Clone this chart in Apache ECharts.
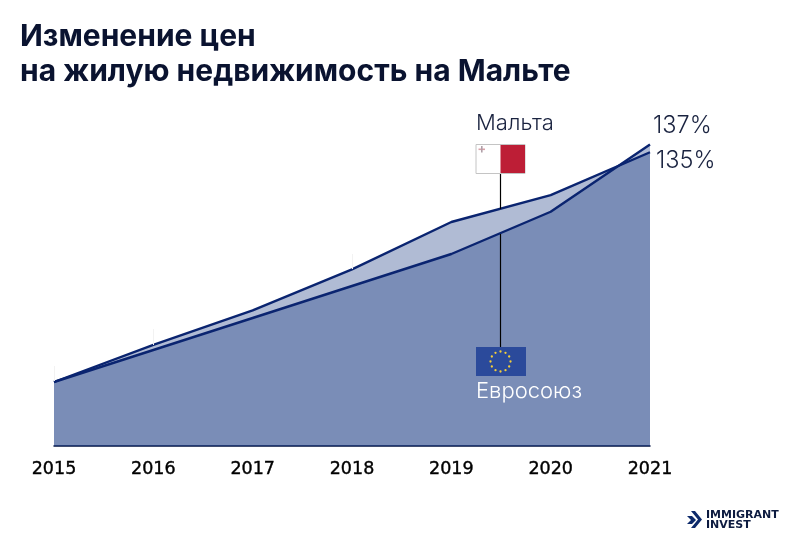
<!DOCTYPE html>
<html><head><meta charset="utf-8">
<style>html,body{margin:0;padding:0;background:#fff}#c{width:801px;height:551px}</style>
<script src="https://cdn.jsdelivr.net/npm/echarts@6/dist/echarts.min.js"></script>
</head><body><div id="c"></div>
<script>
const years = ['2015','2016','2017','2018','2019','2020','2021'];
const malta = [100, 105.8, 111.2, 117.6, 125, 129.2, 135.9];
const eu = [100, 105, 110, 115, 120, 126.6, 137.1];
const titleLines = ['Изменение цен', 'на жилую недвижимость на Мальте'];
const endLabels = ['137%', '135%'];
const names = ['Мальта', 'Евросоюз'];

const chart = echarts.init(document.getElementById('c'), null, {renderer:'canvas'});
const thin = 'Inter';
function txt(x,y,text,font,fill,extra){
  return {type:'text',x,y,style:Object.assign({text,font,fill,textVerticalAlign:'middle'},extra||{}),z:20};
}
function rect(x,y,w,h,fill,extra){return {type:'rect',shape:{x,y,width:w,height:h},style:Object.assign({fill},extra||{}),z:20};}
function vline(x,y1,y2,stroke,w){return {type:'line',shape:{x1:x,y1,x2:x,y2},style:{stroke:stroke||'#000',lineWidth:w||1.2},z:19};}
const stars = [];
for(let i=0;i<12;i++){
  const a=i*Math.PI/6;
  stars.push({type:'circle',shape:{cx:500.5+10*Math.sin(a),cy:361.5-10*Math.cos(a),r:1.15},style:{fill:'#f5cf3a'},z:21});
}
const series = [
  {name:names[0],data:malta},
  {name:names[1],data:eu}
].map(s=>({
  type:'line',name:s.name,data:s.data,smooth:false,showSymbol:false,symbol:'none',
  lineStyle:{color:'#0a2470',width:2.4},
  areaStyle:{color:'#0a2a78',opacity:0.32,origin:'start'},
  emphasis:{disabled:true},silent:true,clip:false,z:5
}));
chart.setOption({
  animation:false,
  backgroundColor:'#fff',
  grid:{left:54,right:151,top:126,bottom:105,containLabel:false},
  xAxis:{type:'category',data:years,boundaryGap:false,
    axisLine:{show:true,lineStyle:{color:'#00103f',width:1.5}},
    axisTick:{show:false},splitLine:{show:false},
    axisLabel:{color:'#000',fontFamily:'DejaVu Sans',fontSize:17.5,margin:14,interval:0,showMinLabel:true,showMaxLabel:true,textBorderColor:'#000',textBorderWidth:0.4}},
  yAxis:{type:'value',min:90,max:140,interval:10,show:false,splitLine:{show:false}},
  series,
  graphic:[
    txt(20,37,titleLines[0],'700 30px Inter','#0a1330'),
    txt(20,72,titleLines[1],'700 30px Inter','#0a1330'),
    txt(476,123,names[0],'300 22px '+thin,'#1a2340'),
    txt(653,126,endLabels[0],'300 23.5px '+thin,'#1a2340'),
    txt(656,161,endLabels[1],'300 23.5px '+thin,'#1a2340'),
    vline(54.5,366,381,'#f2f2f2',1),
    vline(153.5,329,345,'#f2f2f2',1),
    vline(352.5,254,269,'#f2f2f2',1),
    rect(476,144.5,49,29,'#fff',{stroke:'#c4c4c4',lineWidth:1}),
    rect(500.5,145,24.5,28,'#bd1e36'),
    rect(478.5,148.5,6.5,1.6,'#d9a0a8'), rect(481,146,1.6,6.5,'#b0a0a8'),
    vline(500.5,174,209),
    vline(500.5,234,347),
    rect(476,347,50,29,'#2b4a9b'),
    ...stars,
    txt(476,391,names[1],'300 22px '+thin,'#fff'),
    {type:'polygon',shape:{points:[[687,516],[692,516],[696,520],[692,524],[687,524],[691,520]]},style:{fill:'#0d2a6b'},z:20},
    {type:'polygon',shape:{points:[[691,511],[695,511],[702,519.5],[695,528],[691,528],[698,519.5]]},style:{fill:'#0d2a6b'},z:20},
    txt(706,515,'IMMIGRANT','700 11px DejaVu Sans','#0d1b40'),
    txt(706,525.5,'INVEST','700 11px DejaVu Sans','#0d1b40')
  ]
});
</script></body></html>
